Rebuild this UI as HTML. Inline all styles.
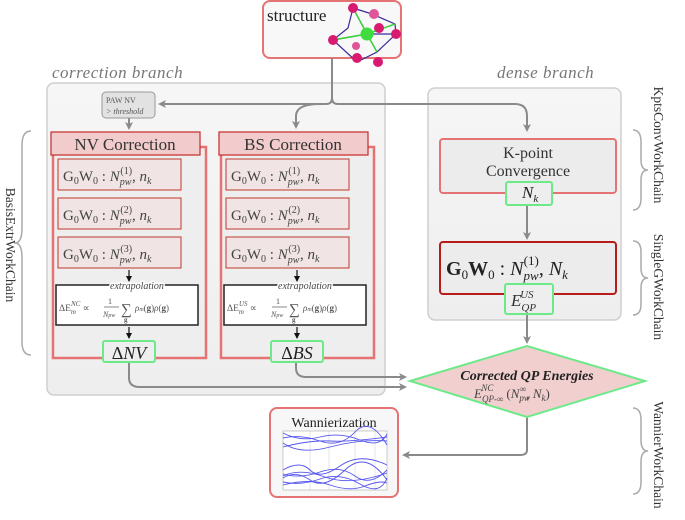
<!DOCTYPE html>
<html><head><meta charset="utf-8"><style>
body{margin:0;background:#fff}
svg{display:block}
text{font-family:"Liberation Serif",serif}
</style></head><body>
<svg width="685" height="520" viewBox="0 0 685 520" xmlns="http://www.w3.org/2000/svg">
<defs>
<marker id="ag" markerWidth="8" markerHeight="8" refX="6" refY="4" orient="auto" markerUnits="userSpaceOnUse"><path d="M0,0 L8,4 L0,8 L2,4 z" fill="#8a8a8a"/></marker>
<marker id="ak" markerWidth="6" markerHeight="6" refX="5" refY="3" orient="auto" markerUnits="userSpaceOnUse"><path d="M0,0 L6,3 L0,6 z" fill="#111"/></marker>
<linearGradient id="pg" x1="0" y1="0" x2="0" y2="1"><stop offset="0" stop-color="#f6f6f6"/><stop offset="1" stop-color="#eeeeee"/></linearGradient>
</defs>

<!-- panels -->
<rect x="47" y="83" width="338" height="312" rx="7" fill="url(#pg)" stroke="#cfcfcf" stroke-width="1.5"/>
<text x="52" y="78" font-size="17" font-style="italic" fill="#777" letter-spacing="0.5">correction branch</text>
<rect x="428" y="88" width="193" height="232" rx="7" fill="url(#pg)" stroke="#cfcfcf" stroke-width="1.5"/>
<text x="497" y="78" font-size="17" font-style="italic" fill="#777" letter-spacing="0.5">dense branch</text>

<!-- structure -->
<rect x="263" y="1" width="138" height="57" rx="7" fill="#f8f8f8" stroke="#e57373" stroke-width="2"/>
<text x="267" y="21" font-size="17" fill="#222">structure</text>
<g stroke="#3a2a9a" stroke-width="1.2" fill="none">
<path d="M353,8 L372,14 L395,24 L396,34 L377,52 L357,62 L333,40 L348,28 Z"/>
<path d="M353,8 L367,34 L396,34 M333,40 L367,34 L377,52"/>
</g>
<g stroke="#3ad13a" stroke-width="1.5"><path d="M367,34 L353,8 M367,34 L333,40 M367,34 L377,52 M367,34 L395,24"/></g>
<circle cx="353" cy="8" r="5" fill="#d81b70"/><circle cx="374" cy="14" r="5" fill="#e0559a"/>
<circle cx="379" cy="28" r="5" fill="#d81b70"/><circle cx="396" cy="34" r="5" fill="#d81b70"/>
<circle cx="333" cy="40" r="5" fill="#d81b70"/><circle cx="356" cy="46" r="4" fill="#e0559a"/>
<circle cx="357" cy="58" r="5" fill="#d81b70"/><circle cx="378" cy="62" r="5" fill="#d81b70"/>
<circle cx="367" cy="34" r="6.5" fill="#3fdc3f"/>

<!-- arrows from structure -->
<g stroke="#8a8a8a" stroke-width="2" fill="none">
<path d="M332,58 V98 Q332,104 326,104 H160" marker-end="url(#ag)"/>
<path d="M332,98 Q332,104 338,104 H515 Q527,104 527,116 V130" marker-end="url(#ag)"/>
<path d="M320,104 Q296,104 296,116 V127" marker-end="url(#ag)"/>
<path d="M129,118 V128" marker-end="url(#ag)"/>
</g>

<!-- PAW -->
<rect x="102" y="92" width="53" height="26" rx="4" fill="#e2e2e2" stroke="#999" stroke-width="1"/>
<text x="106" y="103" font-size="8" fill="#555">PAW NV</text>
<text x="106" y="114" font-size="8" fill="#555" font-style="italic">&gt; threshold</text>

<!-- correction blocks -->
<g id="nv">
<rect x="53" y="147" width="153" height="211" fill="#eeeeee" stroke="#e57373" stroke-width="2.5"/>
<rect x="51" y="132" width="149" height="23" fill="#f2cccc" stroke="#c62828" stroke-width="1.2"/>
<g font-size="15" fill="#333">
<rect x="58" y="159" width="123" height="31" fill="#f0e4e4" stroke="#c0392b" stroke-width="1"/>
<rect x="58" y="198" width="123" height="31" fill="#f0e4e4" stroke="#c0392b" stroke-width="1"/>
<rect x="58" y="237" width="123" height="31" fill="#f0e4e4" stroke="#c0392b" stroke-width="1"/>
</g>
<rect x="56" y="285" width="142" height="40" fill="#fff" stroke="#222" stroke-width="1.5"/>
<text x="137" y="289" font-size="10" font-style="italic" fill="#444" text-anchor="middle" stroke="#fff" stroke-width="3" paint-order="stroke">extrapolation</text>
<g stroke="#111" stroke-width="1.2"><path d="M129,270 V281" marker-end="url(#ak)"/><path d="M129,327 V338" marker-end="url(#ak)"/></g>
</g>
<use href="#nv" x="168"/>

<text x="125" y="150" font-size="17" fill="#333" text-anchor="middle">NV Correction</text>
<text x="293" y="150" font-size="17" fill="#333" text-anchor="middle">BS Correction</text>
<g font-size="15" fill="#444">
<text x="63" y="181">G<tspan font-size="10" dy="3">0</tspan><tspan dy="-3">W</tspan><tspan font-size="10" dy="3">0</tspan><tspan dy="-3"> :  </tspan><tspan font-style="italic">N</tspan><tspan font-size="10" font-style="italic" dy="4">pw</tspan><tspan font-size="10" dx="-11" dy="-11">(1)</tspan><tspan dy="7">, </tspan><tspan font-style="italic">n</tspan><tspan font-size="10" font-style="italic" dy="3">k</tspan></text>
<text x="63" y="220">G<tspan font-size="10" dy="3">0</tspan><tspan dy="-3">W</tspan><tspan font-size="10" dy="3">0</tspan><tspan dy="-3"> :  </tspan><tspan font-style="italic">N</tspan><tspan font-size="10" font-style="italic" dy="4">pw</tspan><tspan font-size="10" dx="-11" dy="-11">(2)</tspan><tspan dy="7">, </tspan><tspan font-style="italic">n</tspan><tspan font-size="10" font-style="italic" dy="3">k</tspan></text>
<text x="63" y="259">G<tspan font-size="10" dy="3">0</tspan><tspan dy="-3">W</tspan><tspan font-size="10" dy="3">0</tspan><tspan dy="-3"> :  </tspan><tspan font-style="italic">N</tspan><tspan font-size="10" font-style="italic" dy="4">pw</tspan><tspan font-size="10" dx="-11" dy="-11">(3)</tspan><tspan dy="7">, </tspan><tspan font-style="italic">n</tspan><tspan font-size="10" font-style="italic" dy="3">k</tspan></text>
<text x="231" y="181">G<tspan font-size="10" dy="3">0</tspan><tspan dy="-3">W</tspan><tspan font-size="10" dy="3">0</tspan><tspan dy="-3"> :  </tspan><tspan font-style="italic">N</tspan><tspan font-size="10" font-style="italic" dy="4">pw</tspan><tspan font-size="10" dx="-11" dy="-11">(1)</tspan><tspan dy="7">, </tspan><tspan font-style="italic">n</tspan><tspan font-size="10" font-style="italic" dy="3">k</tspan></text>
<text x="231" y="220">G<tspan font-size="10" dy="3">0</tspan><tspan dy="-3">W</tspan><tspan font-size="10" dy="3">0</tspan><tspan dy="-3"> :  </tspan><tspan font-style="italic">N</tspan><tspan font-size="10" font-style="italic" dy="4">pw</tspan><tspan font-size="10" dx="-11" dy="-11">(2)</tspan><tspan dy="7">, </tspan><tspan font-style="italic">n</tspan><tspan font-size="10" font-style="italic" dy="3">k</tspan></text>
<text x="231" y="259">G<tspan font-size="10" dy="3">0</tspan><tspan dy="-3">W</tspan><tspan font-size="10" dy="3">0</tspan><tspan dy="-3"> :  </tspan><tspan font-style="italic">N</tspan><tspan font-size="10" font-style="italic" dy="4">pw</tspan><tspan font-size="10" dx="-11" dy="-11">(3)</tspan><tspan dy="7">, </tspan><tspan font-style="italic">n</tspan><tspan font-size="10" font-style="italic" dy="3">k</tspan></text>
</g>
<g font-size="9.5" fill="#555">
<text x="59" y="311">ΔE<tspan font-style="italic" font-size="7" dy="3">m</tspan><tspan font-style="italic" font-size="7" dx="-5" dy="-8">NC</tspan><tspan dy="5"> ∝ </tspan></text>
<text x="108" y="304" font-size="8">1</text><line x1="104" y1="307" x2="119" y2="307" stroke="#555" stroke-width="0.7"/><text x="103" y="317" font-size="8" font-style="italic">N<tspan font-size="6">pw</tspan></text>
<text x="121" y="314" font-size="15">∑</text><text x="124" y="322" font-size="7" font-weight="bold">g</text>
<text x="135" y="311" font-size="9"><tspan font-style="italic">ρ</tspan><tspan font-size="6" font-style="italic">m</tspan>(<tspan font-weight="bold">g</tspan>)<tspan font-style="italic">ρ</tspan>(<tspan font-weight="bold">g</tspan>)</text>
<text x="227" y="311">ΔE<tspan font-style="italic" font-size="7" dy="3">m</tspan><tspan font-style="italic" font-size="7" dx="-5" dy="-8">US</tspan><tspan dy="5"> ∝ </tspan></text>
<text x="276" y="304" font-size="8">1</text><line x1="272" y1="307" x2="287" y2="307" stroke="#555" stroke-width="0.7"/><text x="271" y="317" font-size="8" font-style="italic">N<tspan font-size="6">pw</tspan></text>
<text x="289" y="314" font-size="15">∑</text><text x="292" y="322" font-size="7" font-weight="bold">g</text>
<text x="303" y="311" font-size="9"><tspan font-style="italic">ρ</tspan><tspan font-size="6" font-style="italic">m</tspan>(<tspan font-weight="bold">g</tspan>)<tspan font-style="italic">ρ</tspan>(<tspan font-weight="bold">g</tspan>)</text>
</g>

<!-- delta outputs arrows -->
<g stroke="#8a8a8a" stroke-width="2" fill="none">
<path d="M129,362 V378 Q129,387 140,387 H405" marker-end="url(#ag)"/>
<path d="M296,362 V368 Q296,377 306,377 H405" marker-end="url(#ag)"/>
</g>
<rect x="103" y="341" width="52" height="21" rx="2" fill="#eee" stroke="#6ee98a" stroke-width="2"/>
<text x="129" y="359" font-size="18" fill="#222" text-anchor="middle">Δ<tspan font-style="italic">NV</tspan></text>
<rect x="271" y="341" width="52" height="21" rx="2" fill="#eee" stroke="#6ee98a" stroke-width="2"/>
<text x="297" y="359" font-size="18" fill="#222" text-anchor="middle">Δ<tspan font-style="italic">BS</tspan></text>

<!-- dense branch -->
<g stroke="#8a8a8a" stroke-width="2" fill="none">
<path d="M527,206 V238" marker-end="url(#ag)"/>
<path d="M527,315 V342" marker-end="url(#ag)"/>
<path d="M527,417 V450 Q527,455 520,455 H404" marker-end="url(#ag)"/>
</g>
<rect x="440" y="139" width="176" height="54" rx="3" fill="#ececec" stroke="#e57373" stroke-width="2"/>
<text x="528" y="158" font-size="16" fill="#333" text-anchor="middle">K-point</text>
<text x="528" y="176" font-size="16" fill="#333" text-anchor="middle">Convergence</text>
<rect x="506" y="182" width="46" height="23" rx="2" fill="#eee" stroke="#6ee98a" stroke-width="2"/>
<text x="522" y="198" font-size="17" fill="#222" font-style="italic">N<tspan font-size="11" dy="4">k</tspan></text>
<rect x="440" y="242" width="176" height="52" rx="3" fill="#ececec" stroke="#b71c1c" stroke-width="2"/>
<text x="446" y="275" font-size="20" fill="#222"><tspan font-weight="bold">G</tspan><tspan font-size="13" dy="4">0</tspan><tspan font-weight="bold" dy="-4">W</tspan><tspan font-size="13" dy="4">0</tspan><tspan dy="-4"> : </tspan><tspan font-style="italic">N</tspan><tspan font-size="13" font-style="italic" dy="5">pw</tspan><tspan font-size="13" dx="-15" dy="-15">(1)</tspan><tspan dy="10">, </tspan><tspan font-style="italic">N</tspan><tspan font-size="13" font-style="italic" dy="4">k</tspan></text>
<rect x="505" y="284" width="48" height="30" rx="2" fill="#eee" stroke="#6ee98a" stroke-width="2"/>
<text x="511" y="306" font-size="17" fill="#333" font-style="italic">E<tspan font-size="11" dy="5">QP</tspan><tspan font-size="11" dx="-16" dy="-13">US</tspan></text>

<!-- diamond -->
<polygon points="410,381 527,346 645,381 527,417" fill="#f2cfcf" stroke="#6ee98a" stroke-width="2"/>
<text x="527" y="380" font-size="14" font-style="italic" font-weight="bold" fill="#222" text-anchor="middle">Corrected QP Energies</text>
<text x="474" y="398" font-size="13" font-style="italic" fill="#444">E<tspan font-size="9" dy="4">QP-∞</tspan><tspan font-size="9" dx="-22" dy="-11">NC</tspan><tspan dx="13" dy="7" font-style="normal">(</tspan>N<tspan font-size="9" dy="3">pw</tspan><tspan font-size="9" dx="-10" dy="-9">∞</tspan><tspan dy="6">, N</tspan><tspan font-size="9" dy="3">k</tspan><tspan dy="-3" font-style="normal">)</tspan></text>

<!-- wannierization -->
<rect x="270" y="408" width="128" height="89" rx="7" fill="#f7f7f7" stroke="#e57373" stroke-width="2"/>
<text x="334" y="427" font-size="14" fill="#222" text-anchor="middle">Wannierization</text>
<rect x="283" y="431" width="104" height="59" fill="#fff" stroke="#aaa" stroke-width="0.6"/>
<g stroke="#ccc" stroke-width="0.5"><path d="M310,431V490M329,431V490M355,431V490M375,431V490"/></g>
<g stroke="#5555ee" stroke-width="0.9" fill="none">
<path d="M283,433 Q300,442 320,437 T360,440 T387,434"/>
<path d="M283,438 Q300,434 320,441 T355,432 T387,445"/>
<path d="M283,447 Q310,440 330,441 T387,437"/>
<path d="M283,443 Q300,455 330,447 T387,441"/>
<path d="M283,470 Q300,460 310,470 T340,466 T387,465"/>
<path d="M283,474 Q300,479 320,472 T355,476 T387,470"/>
<path d="M283,478 Q296,470 310,480 T345,470 T387,480"/>
<path d="M283,482 Q300,486 320,479 T360,484 T387,478"/>
<path d="M283,485 Q310,478 330,485 T365,486 T387,483"/>
<path d="M283,476 Q300,468 325,477 T387,473"/>
</g>

<!-- braces -->
<g stroke="#aaa" stroke-width="1.5" fill="none">
<path d="M31,131 Q22,131 22,145 V228 Q22,243 15,243 Q22,243 22,258 V342 Q22,355 31,355"/>
<path d="M633,130 Q641,130 641,142 V160 Q641,170 648,170 Q641,170 641,180 V198 Q641,210 633,210"/>
<path d="M633,241 Q641,241 641,252 V268 Q641,278 648,278 Q641,278 641,288 V304 Q641,315 633,315"/>
<path d="M633,408 Q641,408 641,420 V440 Q641,451 648,451 Q641,451 641,462 V482 Q641,494 633,494"/>
</g>
<g font-size="13.5" fill="#333">
<text transform="translate(6,245) rotate(90)" text-anchor="middle">BasisExtrWorkChain</text>
<text transform="translate(654,145) rotate(90)" text-anchor="middle">KptsConvWorkChain</text>
<text transform="translate(654,287) rotate(90)" text-anchor="middle">SingleGWorkChain</text>
<text transform="translate(654,455) rotate(90)" text-anchor="middle">WannierWorkChain</text>
</g>
</svg>
</body></html>
